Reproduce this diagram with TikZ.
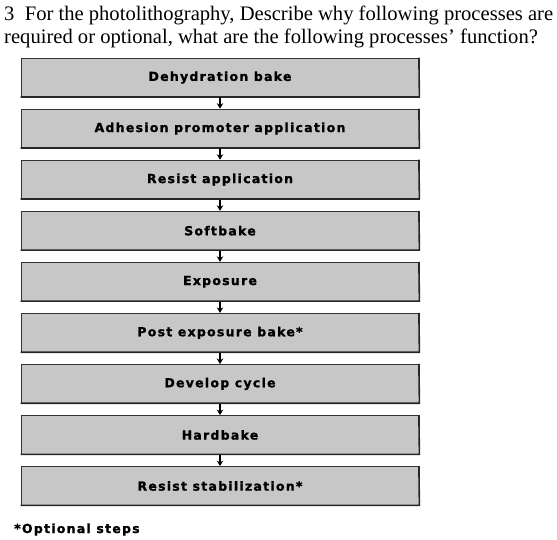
\documentclass[tikz,border=0pt]{standalone}
\usepackage{fontspec}
\usetikzlibrary{arrows.meta}
\setmainfont{Liberation Serif}
\newfontfamily\boxfont[LetterSpace=10,FakeBold=1.3]{DejaVu Sans Bold}
\begin{document}
\begin{tikzpicture}[x=1pt,y=-1pt,
  stepbox/.style={draw=black!80, line width=0.8pt, fill=black!22, minimum width=398pt, minimum height=39pt, inner sep=0pt, font=\boxfont\fontsize{12.5}{14}\selectfont},
  flow/.style={-{Stealth[length=5.5pt,width=6.5pt]}, line width=1.2pt},
  title/.style={anchor=base west, inner sep=0pt, font=\fontsize{20.6}{24}\selectfont}]
\useasboundingbox (0,0) rectangle (557,539);
\node[title] (t1) at (4,20) {3\ \ For the photolithography, Describe why following processes are};
\node[title] (t2) at (4,43) {required or optional, what are the following processes' function?};
\foreach \i/\txt in {1/Dehydration bake, 2/Adhesion promoter application, 3/Resist application, 4/Softbake, 5/Exposure, 6/Post exposure bake*, 7/Develop cycle, 8/Hardbake, 9/Resist stabilization*}{
  \node[stepbox] (b\i) at (220, {77.5+(\i-1)*51.06}) {\txt};
  \draw[line width=1.6pt, black!85] ([yshift=0.5pt]b\i.south west) -- ([yshift=0.5pt]b\i.south east) -- ([xshift=-0.5pt]b\i.north east);
}
\foreach \i [evaluate=\i as \j using int(\i+1)] in {1,...,8}{
  \draw[flow] (b\i.south) -- (b\j.north);
}
\node[anchor=base west, inner sep=0pt, font=\boxfont\fontsize{12.5}{14}\selectfont] (note) at (14,533) {*Optional steps};
\end{tikzpicture}
\end{document}
